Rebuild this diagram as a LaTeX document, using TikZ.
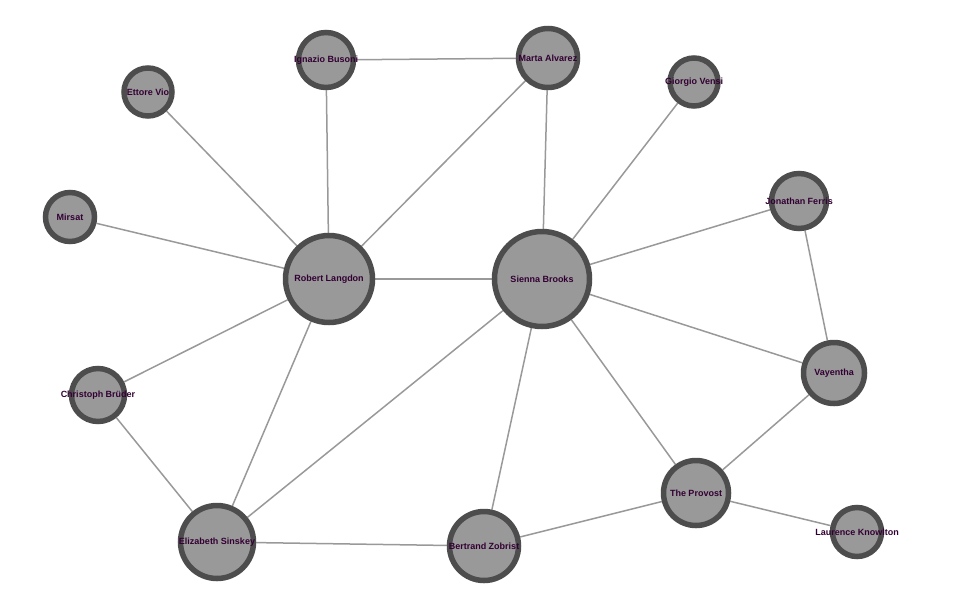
\documentclass[tikz,border=0pt]{standalone}
\usepackage{fontspec}
\setmainfont{Liberation Sans}
\usetikzlibrary{backgrounds}
\definecolor{nfill}{HTML}{999999}
\definecolor{nborder}{HTML}{4D4D4D}
\definecolor{ntext}{HTML}{330033}
\definecolor{edgec}{HTML}{999999}
\tikzset{
  person/.style={circle,fill=nfill,draw=nborder,line width=5.5pt,inner sep=0pt,
    label={[text=ntext,font=\fontsize{9}{10}\selectfont\bfseries,inner sep=0pt]center:#1}},
  link/.style={draw=edgec,line width=1.5pt}
}
\begin{document}
\begin{tikzpicture}[x=1pt,y=-1pt]
\useasboundingbox (0,0) rectangle (958,611);
\node[person=Ignazio Busoni,minimum size=55pt] (ib) at (326,60) {};
\node[person=Marta Alvarez,minimum size=59pt] (ma) at (548,58) {};
\node[person=Ettore Vio,minimum size=48pt] (ev) at (148,92) {};
\node[person=Giorgio Vensi,minimum size=48pt] (gv) at (694,82) {};
\node[person=Mirsat,minimum size=49pt] (mi) at (70,217) {};
\node[person=Jonathan Ferris,minimum size=55pt] (jf) at (799,201) {};
\node[person=Robert Langdon,minimum size=87pt] (rl) at (329,279) {};
\node[person=Sienna Brooks,minimum size=95pt] (sb) at (542,279) {};
\node[person=Christoph Brüder,minimum size=53pt] (cb) at (98,395) {};
\node[person=Vayentha,minimum size=61pt] (va) at (834,373) {};
\node[person=The Provost,minimum size=65pt] (tp) at (696,493) {};
\node[person=Laurence Knowlton,minimum size=49pt] (lk) at (857,532) {};
\node[person=Elizabeth Sinskey,minimum size=73pt] (es) at (217,542) {};
\node[person=Bertrand Zobrist,minimum size=69pt] (bz) at (484,546) {};
\begin{scope}[on background layer]
\foreach \a/\b in {ib/ma,ib/rl,ma/rl,ma/sb,ev/rl,mi/rl,rl/sb,gv/sb,jf/sb,jf/va,sb/va,sb/tp,sb/bz,sb/es,rl/cb,rl/es,cb/es,es/bz,bz/tp,tp/va,tp/lk}
  \draw[link] (\a) -- (\b);
\end{scope}
\end{tikzpicture}
\end{document}
